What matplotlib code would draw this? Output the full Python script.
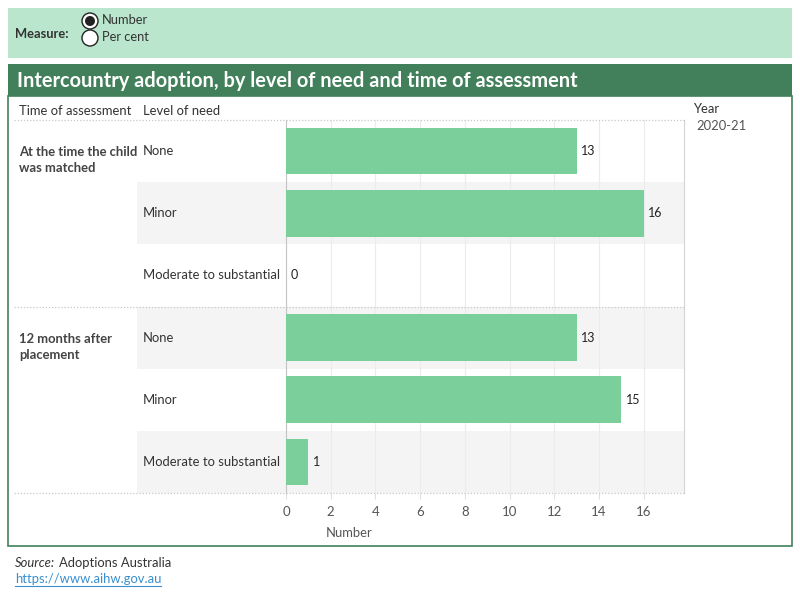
import matplotlib.pyplot as plt
import matplotlib.patches as mpatches
import matplotlib.transforms as mtransforms

# ---------------- data ----------------
assessments = ["At the time the child\nwas matched", "12 months after\nplacement"]
levels = ["None", "Minor", "Moderate to substantial"]
values = [13, 16, 0, 13, 15, 1]
ticks = [0, 2, 4, 6, 8, 10, 12, 14, 16]
year = "2020-21"

# ---------------- style ----------------
plt.rcParams['font.family'] = ['Lato', 'DejaVu Sans']
TXT = "#333333"
BAR = "#7bcf9a"
BAND = "#f4f4f4"
DARK = "#41805a"
LIGHT = "#b9e6cc"

W, H = 800, 600
fig = plt.figure(figsize=(8, 6), dpi=100)

def fx(px):
    return px / W

def fy(py):
    return 1 - py / H

def frect(x0, y0, x1, y1, **kw):
    r = mpatches.Rectangle((fx(x0), fy(y1)), fx(x1 - x0), (y1 - y0) / H,
                           transform=fig.transFigure, **kw)
    fig.patches.append(r)
    return r

# top control panel
frect(8, 8, 792, 58, facecolor=LIGHT, edgecolor="none", zorder=0)
fig.text(fx(15), fy(34), "Measure:", fontsize=9.3, fontweight="bold", color=TXT, va="center")
for i, (lab, cy) in enumerate([("Number", 21), ("Per cent", 38)]):
    c = mpatches.Ellipse((fx(90), fy(cy)), 16 / W, 16 / H, transform=fig.transFigure,
                         facecolor="white", edgecolor="#222222", lw=1, zorder=2)
    fig.patches.append(c)
    if i == 0:
        d = mpatches.Ellipse((fx(90), fy(cy)), 10 / W, 10 / H, transform=fig.transFigure,
                             facecolor="#222222", edgecolor="none", zorder=3)
        fig.patches.append(d)
    fig.text(fx(102), fy(cy - 1), lab, fontsize=9.3, color=TXT, va="center")

# title bar and outer box
frect(8, 64, 792, 96, facecolor=DARK, edgecolor="none", zorder=0)
frect(8, 96, 792, 546, facecolor="white", edgecolor=DARK, lw=1.2, zorder=0)
fig.text(fx(17), fy(81), "Intercountry adoption, by level of need and time of assessment",
         fontsize=14.4, fontweight="bold", color="white", va="center")

# main axes
ax_l, ax_r, ax_t, ax_b = 286, 684, 120, 493
ax = fig.add_axes([fx(ax_l), fy(ax_b), fx(ax_r - ax_l), (ax_b - ax_t) / H])
ax.set_facecolor("none")
ax.set_zorder(2)

n = len(values)
rows = list(range(n))
ax.set_xlim(0, 17.8)
ax.set_ylim(n - 0.5, -0.5)

# banding (extends into level-of-need column)
band_tr = mtransforms.blended_transform_factory(fig.transFigure, ax.transData)
for r in rows:
    if r % 2 == 1:
        ax.add_patch(mpatches.Rectangle((fx(137), r - 0.5), fx(ax_r - 137), 1.0,
                                        transform=band_tr, facecolor=BAND,
                                        edgecolor="none", clip_on=False, zorder=0))

for t in ticks:
    ax.axvline(t, color="#ececec", lw=0.8, zorder=1)

ax.barh(rows, values, height=0.75, color=BAR, zorder=3)
for r, v in zip(rows, values):
    ax.annotate(str(v), (v, r), xytext=(3, 0), textcoords="offset points",
                va="center", ha="left", fontsize=9, color="#222222", zorder=4)

ax.set_xticks(ticks)
ax.set_xticklabels([str(t) for t in ticks], fontsize=9.5, color="#555555")
ax.tick_params(axis="x", length=4, color="#e0e0e0", pad=5)
ax.set_yticks([])
for s in ["top", "bottom"]:
    ax.spines[s].set_visible(False)
ax.spines["left"].set_color("#c4c4c4")
ax.spines["right"].set_color("#d4d4d4")

# dotted separators
for py in [ax_t, 307, ax_b]:
    fig.lines.append(plt.Line2D([fx(14), fx(ax_r)], [fy(py), fy(py)], transform=fig.transFigure,
                                color="#c8c8c8", lw=0.9, ls=(0, (1, 1.5)), zorder=5))

# row labels
lab_tr = mtransforms.blended_transform_factory(fig.transFigure, ax.transData)
for r in rows:
    ax.text(fx(143), r, levels[r % 3], transform=lab_tr, fontsize=9.4, color=TXT,
            va="center", ha="left", clip_on=False)
for g, name in enumerate(assessments):
    ax.text(fx(19), g * 3 - 0.08, name, transform=lab_tr, fontsize=9.4, fontweight="bold",
            color="#444444", va="top", ha="left", linespacing=1.4, clip_on=False)

# headers
fig.text(fx(19), fy(111), "Time of assessment", fontsize=9.4, color=TXT, va="center")
fig.text(fx(143), fy(111), "Level of need", fontsize=9.4, color=TXT, va="center")
fig.text(fx(693), fy(109), "Year", fontsize=9.4, color=TXT, va="center")
fig.text(fx(696), fy(126), year, fontsize=9.4, color="#555555", va="center")
fig.text(fx(349), fy(533), "Number", fontsize=9.4, color="#555555", va="center", ha="center")

# source
src = fig.text(fx(15), fy(563), "Source:", fontsize=9.4, fontstyle="italic", color=TXT, va="center")
fig.canvas.draw()
bb = src.get_window_extent(renderer=fig.canvas.get_renderer())
fig.text(bb.x1 / W + fx(4), fy(563), "Adoptions Australia", fontsize=9.4, color=TXT, va="center")
url = fig.text(fx(15), fy(579), "https://www.aihw.gov.au", fontsize=9.4, color="#3a8fcf", va="center")
fig.canvas.draw()
ub = url.get_window_extent(renderer=fig.canvas.get_renderer())
fig.lines.append(plt.Line2D([ub.x0 / W, ub.x1 / W], [fy(586), fy(586)], transform=fig.transFigure,
                            color="#3a8fcf", lw=0.8))

fig.savefig("out.png", dpi=100)
